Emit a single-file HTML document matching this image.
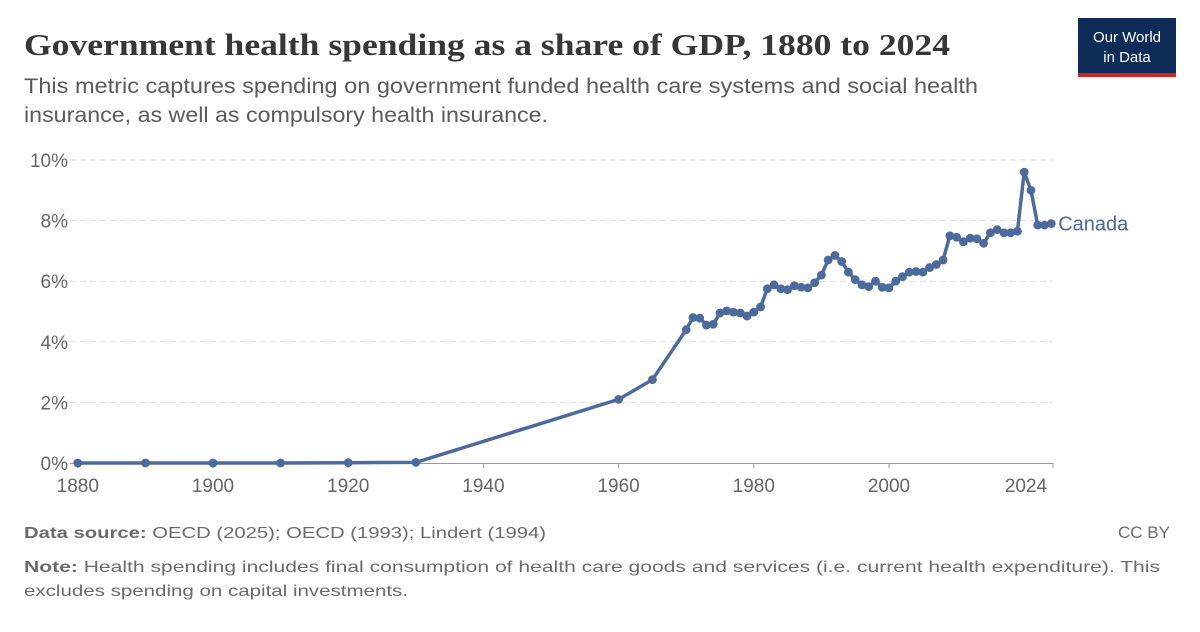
<!DOCTYPE html>
<html><head><meta charset="utf-8">
<style>
body{margin:0;background:#fff;font-family:"Liberation Sans",sans-serif;}
svg text{font-family:"Liberation Sans",sans-serif;}
</style></head>
<body>
<svg width="1200" height="627" viewBox="0 0 1200 627" xmlns="http://www.w3.org/2000/svg">
<text x="24" y="55" font-size="31" fill="#373737" font-weight="bold" textLength="926" lengthAdjust="spacingAndGlyphs" style="font-family:'Liberation Serif',serif">Government health spending as a share of GDP, 1880 to 2024</text>
<text x="24" y="93" font-size="21" fill="#5b5b5b" textLength="954" lengthAdjust="spacingAndGlyphs">This metric captures spending on government funded health care systems and social health</text>
<text x="24" y="122" font-size="21" fill="#5b5b5b" textLength="524" lengthAdjust="spacingAndGlyphs">insurance, as well as compulsory health insurance.</text>
<g>
<rect x="1078" y="18" width="98" height="58" fill="#0f2b57"/>
<rect x="1078" y="73" width="98" height="4" fill="#ce261e"/>
<text x="1127" y="42" font-size="15" fill="#fff" text-anchor="middle">Our World</text>
<text x="1127" y="62" font-size="15" fill="#fff" text-anchor="middle">in Data</text>
</g>
<g id="grid"></g>
<g id="yticks"></g>
<g id="xticks"></g>
<g id="series"></g>
<text x="24" y="538" font-size="16" fill="#6b6b6b" textLength="522" lengthAdjust="spacingAndGlyphs"><tspan font-weight="bold">Data source:</tspan> OECD (2025); OECD (1993); Lindert (1994)</text>
<text x="1170" y="538" font-size="17" fill="#6b6b6b" text-anchor="end">CC BY</text>
<text x="24" y="572" font-size="16" fill="#6b6b6b" textLength="1136" lengthAdjust="spacingAndGlyphs"><tspan font-weight="bold">Note:</tspan> Health spending includes final consumption of health care goods and services (i.e. current health expenditure). This</text>
<text x="24" y="596" font-size="16" fill="#6b6b6b" textLength="384" lengthAdjust="spacingAndGlyphs">excludes spending on capital investments.</text>
</svg>
<script>
const years=[1880,1890,1900,1910,1920,1930,1960,1965,1970,1971,1972,1973,1974,1975,1976,1977,1978,1979,1980,1981,1982,1983,1984,1985,1986,1987,1988,1989,1990,1991,1992,1993,1994,1995,1996,1997,1998,1999,2000,2001,2002,2003,2004,2005,2006,2007,2008,2009,2010,2011,2012,2013,2014,2015,2016,2017,2018,2019,2020,2021,2022,2023,2024];
const values=[0,0,0,0,0.01,0.02,2.1,2.75,4.4,4.8,4.78,4.55,4.58,4.95,5.02,4.98,4.95,4.85,4.98,5.15,5.75,5.88,5.75,5.72,5.85,5.8,5.78,5.95,6.2,6.7,6.85,6.65,6.3,6.05,5.88,5.82,6.0,5.8,5.78,6.0,6.15,6.3,6.32,6.3,6.45,6.55,6.7,7.5,7.45,7.3,7.42,7.4,7.25,7.6,7.7,7.6,7.6,7.65,9.6,9.0,7.85,7.85,7.9];
const yTicks=[0,2,4,6,8,10];
const xTicks=[1880,1900,1920,1940,1960,1980,2000,2024];
const NS='http://www.w3.org/2000/svg';
const X=y=>213+(y-1900)*6.76;
const Y=v=>463-v*30.3;
function mk(t,a,p){const e=document.createElementNS(NS,t);for(const k in a)e.setAttribute(k,a[k]);p.appendChild(e);return e;}
const grid=document.getElementById('grid'),yt=document.getElementById('yticks'),xt=document.getElementById('xticks'),s=document.getElementById('series');
yTicks.forEach(v=>{
 if(v>0){const l=mk('line',{x1:70,x2:1053,y1:Y(v),y2:Y(v),stroke:'#ddd','stroke-dasharray':'6,4'},grid);
 
 }
 const t=mk('text',{x:68,y:Y(v)+7,'font-size':19,fill:'#666','text-anchor':'end'},yt);t.textContent=v+'%';
 
 
});
mk('line',{x1:70,x2:1053,y1:463.5,y2:463.5,stroke:'#999'},xt);
xTicks.forEach(y=>{
 const px=y===2024?1053:X(y);
 mk('line',{x1:px,x2:px,y1:463,y2:468,stroke:'#999'},xt);
 const t=mk('text',{x:y===2024?1026:px,y:492,'font-size':19,fill:'#666','text-anchor':'middle'},xt);t.textContent=y;
 
 
});
const pl=mk('polyline',{points:years.map((y,i)=>X(y)+','+Y(values[i])).join(' '),fill:'none',stroke:'#4c6a9c','stroke-width':3.5,'stroke-linejoin':'round'},s);


years.forEach((y,i)=>{const c=mk('circle',{cx:X(y),cy:Y(values[i]),r:4.4,fill:'#4c6a9c'},s);
 
 });
const lab=mk('text',{x:X(2024)+7,y:Y(values[values.length-1])+7,'font-size':20,fill:'#4c6a9c'},s);lab.textContent='Canada';


</script>
</body></html>
